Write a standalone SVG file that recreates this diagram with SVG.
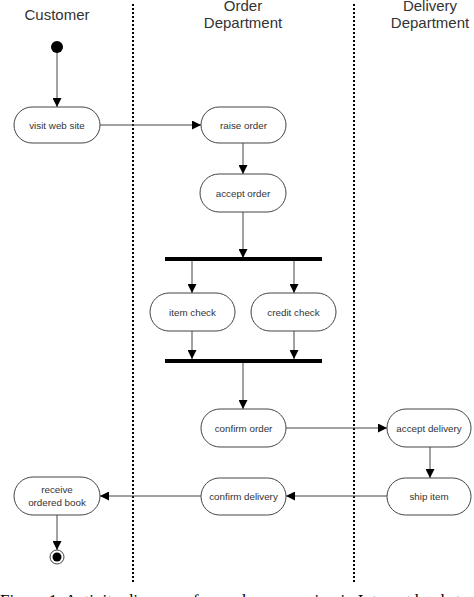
<svg xmlns="http://www.w3.org/2000/svg" width="474" height="597" viewBox="0 0 474 597">
<style>
.lane{stroke:#000;stroke-width:2;stroke-dasharray:2 2;fill:none}
.hdr{font-family:"Liberation Sans",Arial,sans-serif;font-size:15px;fill:#333;text-anchor:middle}
.node rect{fill:#fff;stroke:#444;stroke-width:1}
.node text{font-family:"Liberation Sans",Arial,sans-serif;font-size:9.8px;fill:#333;text-anchor:middle}
.edge{stroke:#444;stroke-width:1;fill:none;marker-end:url(#arr)}
.bar{fill:#000}
.cap{font-family:"Liberation Serif","Times New Roman",serif;font-size:17px;fill:#000}
</style>
<defs>
<marker id="arr" viewBox="0 0 10 10" refX="10" refY="5" markerWidth="9" markerHeight="9" markerUnits="userSpaceOnUse" orient="auto">
<path d="M0,0 L10,5 L0,10 z" fill="#000"/>
</marker>
</defs>
<rect width="474" height="597" fill="#fff"/>
<g id="lanes">
<line class="lane" x1="133" y1="4" x2="133" y2="583"/>
<line class="lane" x1="354" y1="4" x2="354" y2="583"/>
<text class="hdr" x="57" y="20">Customer</text>
<text class="hdr" x="243" y="11">Order</text>
<text class="hdr" x="243" y="28">Department</text>
<text class="hdr" x="430" y="11">Delivery</text>
<text class="hdr" x="430" y="28">Department</text>
</g>
<g id="connectors">
<line class="edge" x1="57" y1="52" x2="57" y2="107"/>
<line class="edge" x1="100" y1="125" x2="201" y2="125"/>
<line class="edge" x1="243" y1="143" x2="243" y2="174"/>
<line class="edge" x1="243" y1="212" x2="243" y2="258"/>
<line class="edge" x1="192" y1="261" x2="192" y2="293"/>
<line class="edge" x1="294" y1="261" x2="294" y2="293"/>
<line class="edge" x1="192" y1="331" x2="192" y2="359"/>
<line class="edge" x1="294" y1="331" x2="294" y2="359"/>
<line class="edge" x1="243" y1="363" x2="243" y2="409"/>
<line class="edge" x1="286" y1="428" x2="387" y2="428"/>
<line class="edge" x1="430" y1="447" x2="430" y2="478"/>
<line class="edge" x1="387" y1="496" x2="286" y2="496"/>
<line class="edge" x1="201" y1="496" x2="100" y2="496"/>
<line class="edge" x1="57" y1="515" x2="57" y2="550"/>
</g>
<g id="start"><circle cx="57" cy="47" r="6" fill="#000"/></g>
<g id="end"><circle cx="57" cy="557" r="7" fill="#fff" stroke="#444" stroke-width="1"/><circle cx="57" cy="557" r="4.5" fill="#000"/></g>
<g id="fork"><rect class="bar" x="165" y="257" width="157" height="4"/></g>
<g id="join"><rect class="bar" x="165" y="359" width="157" height="4"/></g>
<g id="visit" class="node"><rect x="14" y="107" width="86" height="36" rx="18"/><text x="57" y="128.5">visit web site</text></g>
<g id="raise" class="node"><rect x="201" y="107" width="85" height="36" rx="18"/><text x="243.5" y="128.5">raise order</text></g>
<g id="accept-order" class="node"><rect x="200" y="174" width="86" height="38" rx="19"/><text x="243" y="196.5">accept order</text></g>
<g id="item-check" class="node"><rect x="150" y="293" width="85" height="38" rx="19"/><text x="192.5" y="315.5">item check</text></g>
<g id="credit-check" class="node"><rect x="251" y="293" width="85" height="38" rx="19"/><text x="293.5" y="315.5">credit check</text></g>
<g id="confirm-order" class="node"><rect x="201" y="409" width="85" height="38" rx="19"/><text x="243.5" y="431.5">confirm order</text></g>
<g id="accept-delivery" class="node"><rect x="387" y="409" width="84" height="38" rx="19"/><text x="429" y="431.5">accept delivery</text></g>
<g id="ship" class="node"><rect x="387" y="478" width="84" height="37" rx="18.5"/><text x="429" y="500">ship item</text></g>
<g id="confirm-delivery" class="node"><rect x="201" y="478" width="85" height="37" rx="18.5"/><text x="243.5" y="500">confirm delivery</text></g>
<g id="receive" class="node"><rect x="14" y="477" width="86" height="38" rx="19"/><text x="57" y="493">receive</text><text x="57" y="506">ordered book</text></g>
<text class="cap" x="0" y="606">Figure 1.   Activity diagram of an order processing in Internet bookstore</text>
</svg>
